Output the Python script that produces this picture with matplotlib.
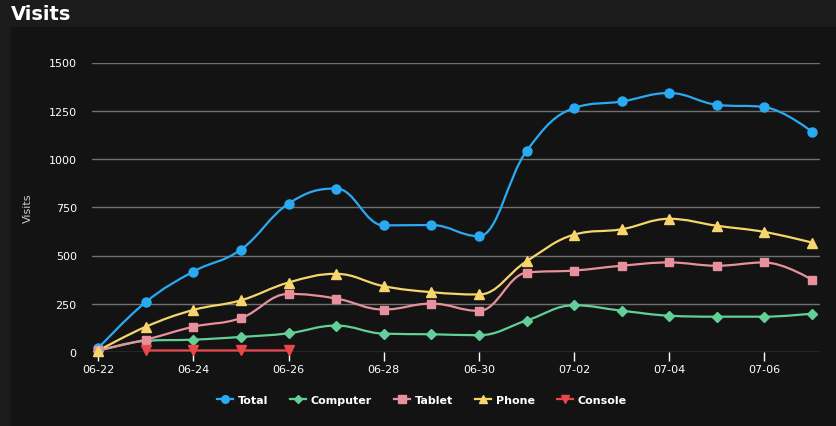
import numpy as np
import matplotlib
matplotlib.use("Agg")
import matplotlib.pyplot as plt
from matplotlib.path import Path
from matplotlib.patches import PathPatch, Rectangle
from matplotlib.lines import Line2D

# ---- data ----
dates = ["06-22", "06-23", "06-24", "06-25", "06-26", "06-27", "06-28", "06-29",
         "06-30", "07-01", "07-02", "07-03", "07-04", "07-05", "07-06", "07-07"]
total = [20, 259, 417, 531, 769, 847, 656, 658, 600, 1041, 1264, 1298, 1342, 1281, 1269, 1141]
computer = [5, 58, 64, 78, 97, 137, 95, 92, 87, 163, 242, 214, 188, 183, 183, 199]
tablet = [10, 64, 131, 176, 301, 277, 220, 251, 213, 411, 422, 447, 464, 447, 464, 374]
phone = [7, 131, 218, 268, 360, 405, 341, 310, 298, 470, 608, 636, 690, 654, 622, 567]
console = [None, 8, 8, 8, 8, None, None, None, None, None, None, None, None, None, None, None]
yticks = [0, 250, 500, 750, 1000, 1250, 1500]

series = [
    ("Total", total, "#2aaaf2", "o", 6.5),
    ("Computer", computer, "#63cf96", "D", 4.6),
    ("Tablet", tablet, "#e8919e", "s", 6.3),
    ("Phone", phone, "#f6d56c", "^", 6.5),
    ("Console", console, "#e8484c", "v", 6.5),
]

W, H = 836, 427
fig = plt.figure(figsize=(W / 100, H / 100), dpi=100)
fig.patch.set_facecolor("#1b1b1b")
bg = Rectangle((11 / W, 0), 1, 1 - 28 / H, transform=fig.transFigure,
               facecolor="#131313", edgecolor="none", zorder=-10)
fig.patches.append(bg)

fig.text(11 / W, 1 - 14 / H, "Visits", color="white", fontsize=14, fontweight="bold",
         family="DejaVu Sans", va="center", ha="left")

ax = fig.add_axes([92 / W, 1 - 353 / H, (820 - 92) / W, (353 - 63.5) / H])
ax.set_zorder(1)
ax.set_facecolor("none")
for s in ax.spines.values():
    s.set_visible(False)

xs_all = np.arange(len(dates), dtype=float)


def spline_path(x, y):
    """Highcharts-style spline through points, returned as a Bezier path."""
    n = len(x)
    sm = 1.5
    den = sm + 1
    lc = [None] * n
    rc = [None] * n
    for i in range(1, n - 1):
        lx, ly = x[i - 1], y[i - 1]
        px, py = x[i], y[i]
        nx, ny = x[i + 1], y[i + 1]
        lcx = (sm * px + lx) / den
        lcy = (sm * py + ly) / den
        rcx = (sm * px + nx) / den
        rcy = (sm * py + ny) / den
        corr = 0.0
        if rcx != lcx:
            corr = (rcy - lcy) * (rcx - px) / (rcx - lcx) + py - rcy
        lcy += corr
        rcy += corr
        if lcy > ly and lcy > py:
            lcy = max(ly, py)
            rcy = 2 * py - lcy
        elif lcy < ly and lcy < py:
            lcy = min(ly, py)
            rcy = 2 * py - lcy
        if rcy > ny and rcy > py:
            rcy = max(ny, py)
            lcy = 2 * py - rcy
        elif rcy < ny and rcy < py:
            rcy = min(ny, py)
            lcy = 2 * py - rcy
        lc[i] = (lcx, lcy)
        rc[i] = (rcx, rcy)
    verts = [(x[0], y[0])]
    codes = [Path.MOVETO]
    for i in range(1, n):
        c1 = rc[i - 1] if rc[i - 1] is not None else (x[i - 1], y[i - 1])
        c2 = lc[i] if lc[i] is not None else (x[i], y[i])
        verts += [c1, c2, (x[i], y[i])]
        codes += [Path.CURVE4] * 3
    return Path(verts, codes)


for name, vals, color, marker, ms in series:
    mask = [v is not None for v in vals]
    x = xs_all[mask]
    y = np.array([v for v in vals if v is not None], dtype=float)
    if len(x) > 1:
        ax.add_patch(PathPatch(spline_path(x, y), facecolor="none", edgecolor=color,
                               lw=1.6, zorder=3, clip_on=False, capstyle="round"))
    ax.plot(x, y, ls="none", marker=marker, ms=ms, color=color, mec=color,
            zorder=4, clip_on=False)

ax.set_xlim(-6.3 / 47.6, 15 + 8 / 47.6)
ax.set_ylim(0, 1500)
ax.set_yticks(yticks)
ax.set_yticklabels([str(v) for v in yticks])
ax.grid(axis="y", color="#707070", lw=1)
ax.set_axisbelow(True)
ax.tick_params(axis="y", length=0, pad=11, colors="white", labelsize=8)
ax.set_xticks(xs_all[::2])
ax.set_xticklabels(dates[::2])
ax.tick_params(axis="x", length=6.5, width=1, colors="white", labelsize=8, pad=2)
for tl in ax.xaxis.get_ticklines():
    tl.set_color("#707070")
ax.set_ylabel("Visits", color="#cccccc", fontsize=8)
ax.yaxis.set_label_coords((33 - 92) / (820 - 92), 0.5)

handles = [Line2D([0], [0], color=c, lw=1.6, marker=m, ms=ms * 0.85, mec=c)
           for _, _, c, m, ms in series]
leg = fig.legend(handles, [s[0] for s in series], loc="center", ncol=5,
                 bbox_to_anchor=(0.5 + 4 / W, 1 - 401 / H), frameon=False,
                 handlelength=1.45, handletextpad=0.4, columnspacing=2.0,
                 prop={"weight": "bold", "size": 8})
for t in leg.get_texts():
    t.set_color("white")

fig.savefig("out.png", dpi=100, facecolor=fig.get_facecolor())
